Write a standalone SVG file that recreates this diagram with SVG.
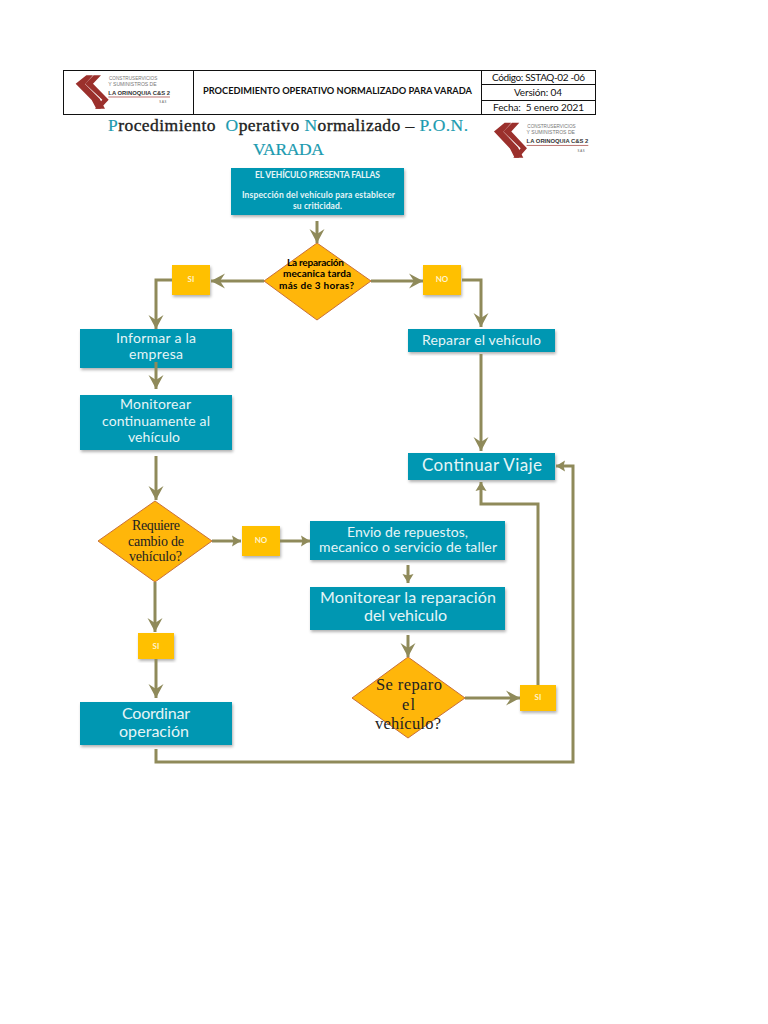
<svg xmlns="http://www.w3.org/2000/svg" width="768" height="1024" viewBox="0 0 768 1024">
<style>
.tb{fill:#0097b2;filter:url(#sh)}
.yb{fill:#ffc000;filter:url(#sh)}
.d{fill:#ffb60a;stroke:#c8703a;stroke-width:1}
.w{fill:#e6f5f7;font-family:Lato,"Liberation Sans",sans-serif}
.y{fill:#fff4cc;text-anchor:middle;font-family:Lato,"Liberation Sans",sans-serif;font-size:8px;font-weight:700}
.k{fill:#000;font-family:Lato,"Liberation Sans",sans-serif;font-size:10px;font-weight:700}
.s{fill:#222;font-family:"Liberation Serif",serif;font-size:14px}
.s2{font-size:16.5px}
.c{fill:none;stroke:#8f8a5a;stroke-width:3}
.hd{fill:#111;font-family:Lato,"Liberation Sans",sans-serif;font-size:10px}
.t{font-family:"Liberation Serif",serif;font-size:17.5px;fill:#222;stroke:#222;stroke-width:.35}
.tc{fill:#1c9bb0;stroke:#1c9bb0;stroke-width:.2}
.lg{font-family:"Liberation Sans",sans-serif;fill:#777;font-size:15px}
</style>
<defs>
<filter id="sh" x="-10%" y="-10%" width="120%" height="125%"><feDropShadow dx="1" dy="2" stdDeviation="1.5" flood-color="#000" flood-opacity=".3"/></filter>
<marker id="a" markerUnits="userSpaceOnUse" markerWidth="18" markerHeight="18" refX="15" refY="9" orient="auto"><path d="M1 1.500L15 9L1 16.500L6 9Z" fill="#8f8a5a"/></marker>
<marker id="b" markerUnits="userSpaceOnUse" markerWidth="12" markerHeight="12" refX="10" refY="6" orient="auto"><path d="M1 .5L10 6L1 11.5L2.500 6Z" fill="#8f8a5a"/></marker>
<g id="logo">
<path d="M32 47L64 22H84L60 48L104 92L120 122H94L80 96Z" fill="#9b302c"/>
<path d="M60 47L86 22H108L84 47L131 95L106 122H90L112 95Z" fill="#9b302c"/>
<text x="132" y="36" class="lg" textLength="145" lengthAdjust="spacingAndGlyphs">CONSTRUSERVICIOS</text>
<text x="130" y="55" class="lg" textLength="145" lengthAdjust="spacingAndGlyphs">Y SUMINISTROS DE</text>
<text x="130" y="80" class="lg" style="fill:#333;font-weight:700;font-size:16px" textLength="185" lengthAdjust="spacingAndGlyphs">LA ORINOQUIA C&amp;S 2</text>
<line x1="130" y1="87" x2="315" y2="87" stroke="#9b302c" stroke-width="2"/>
<text x="283" y="105" class="lg" style="font-size:11px;fill:#555" textLength="21" lengthAdjust="spacingAndGlyphs">S.A.S</text>
</g>
</defs>
<rect width="768" height="1024" fill="#fff"/>
<g id="header" fill="none" stroke="#111" stroke-width="1">
<rect x="63.500" y="70.500" width="532" height="44"/>
<path d="M193.500 70V114M481.500 70V114M482 84.500H596M482 100.500H596"/>
</g>
<g id="header-text">
<use href="#logo" transform="translate(65 68) scale(.3333)"/>
<text x="203" y="94" class="hd" style="font-weight:700;font-size:10px" textLength="269" lengthAdjust="spacingAndGlyphs">PROCEDIMIENTO OPERATIVO NORMALIZADO PARA VARADA</text>
<text x="492" y="81" class="hd" textLength="93" lengthAdjust="spacing">Código: SSTAQ-02 -06</text>
<text x="514" y="96" class="hd" textLength="48" lengthAdjust="spacing">Versión: 04</text>
<text x="493" y="111" class="hd" textLength="91" lengthAdjust="spacing" xml:space="preserve">Fecha:  5 enero 2021</text>
</g>
<g id="title">
<text x="108" y="131" class="t" textLength="360" lengthAdjust="spacing" xml:space="preserve"><tspan class="tc">P</tspan>rocedimiento  <tspan class="tc">O</tspan>perativo <tspan class="tc">N</tspan>ormalizado – <tspan class="tc">P.O.N.</tspan></text>
<text x="253" y="155" class="t tc" textLength="71" lengthAdjust="spacing">VARADA</text>
<use href="#logo" transform="translate(483.300 115) scale(.3333 .35)"/>
</g>
<g id="n1"><rect class="tb" x="231" y="168" width="173" height="47"/>
<text class="w" x="255" y="178" font-size="8.500" textLength="125" style="font-weight:700">EL VEHÍCULO PRESENTA FALLAS</text>
<text class="w" x="242" y="198" font-size="8.500" textLength="153" style="font-weight:700">Inspección del vehículo para establecer</text>
<text class="w" x="293" y="209" font-size="8.500" textLength="49" style="font-weight:700">su criticidad.</text></g>
<g id="n2"><polygon class="d" points="317,243 371,281 317,320 264,281"/>
<text class="k" x="287" y="266" textLength="57">La reparación</text><text class="k" x="283" y="277" textLength="68">mecanica tarda</text><text class="k" x="279" y="289" textLength="75">más de 3 horas?</text></g>
<g id="n3"><rect class="yb" x="172" y="265" width="38" height="30"/><text class="y" x="191" y="282">SI</text></g>
<g id="n4"><rect class="yb" x="423" y="265" width="38" height="30"/><text class="y" x="442" y="282">NO</text></g>
<g id="n5"><rect class="tb" x="80" y="329" width="152" height="39"/>
<text class="w" x="116" y="343" font-size="14" textLength="80">Informar a la</text><text class="w" x="129" y="359" font-size="14" textLength="54">empresa</text></g>
<g id="n6"><rect class="tb" x="408" y="329" width="147" height="23"/><text class="w" x="422" y="345" font-size="14" textLength="119">Reparar el vehículo</text></g>
<g id="n7"><rect class="tb" x="80" y="395" width="152" height="55"/>
<text class="w" x="120" y="409" font-size="14" textLength="71">Monitorear</text><text class="w" x="102" y="426" font-size="14" textLength="108">continuamente al</text><text class="w" x="128" y="442" font-size="14" textLength="52">vehículo</text></g>
<g id="n8"><rect class="tb" x="408" y="453" width="147" height="27"/><text class="w" x="422" y="471" font-size="17" textLength="120">Continuar Viaje</text></g>
<g id="n9"><polygon class="d" points="155,501 212,541 155,582 98,541"/>
<text class="s" x="132" y="530" textLength="48">Requiere</text><text class="s" x="128" y="546" textLength="56">cambio de</text><text class="s" x="129" y="561" textLength="53">vehículo?</text></g>
<g id="n10"><rect class="yb" x="242" y="526" width="38" height="30"/><text class="y" x="261" y="543">NO</text></g>
<g id="n11"><rect class="tb" x="310" y="521" width="195" height="39"/>
<text class="w" x="347" y="537" font-size="14" textLength="121">Envio de repuestos,</text><text class="w" x="319" y="552" font-size="14" textLength="178">mecanico o servicio de taller</text></g>
<g id="n12"><rect class="tb" x="310" y="587" width="195" height="43"/>
<text class="w" x="320" y="603" font-size="16" textLength="176">Monitorear la reparación</text><text class="w" x="364" y="621" font-size="16" textLength="83">del vehiculo</text></g>
<g id="n13"><polygon class="d" points="408,657 465,698 408,738 352,698"/>
<text class="s s2" x="376" y="690" textLength="66">Se reparo</text><text class="s s2" x="402" y="710" textLength="13">el</text><text class="s s2" x="375" y="729" textLength="66">vehículo?</text></g>
<g id="n14"><rect class="yb" x="138" y="633" width="36" height="26"/><text class="y" x="156" y="649">SI</text></g>
<g id="n15"><rect class="yb" x="520" y="685" width="36" height="26"/><text class="y" x="538" y="700">SI</text></g>
<g id="n16"><rect class="tb" x="80" y="702" width="152" height="43"/>
<text class="w" x="122" y="719" font-size="16" textLength="68">Coordinar</text><text class="w" x="119" y="737" font-size="16" textLength="70">operación</text></g>
<g id="connectors">
<path class="c" d="M317 221V243" marker-end="url(#a)"/>
<path class="c" d="M264 281H211" marker-end="url(#a)"/>
<path class="c" d="M172 280H156V329" marker-end="url(#a)"/>
<path class="c" d="M371 281H423" marker-end="url(#a)"/>
<path class="c" d="M462 280H481V327" marker-end="url(#a)"/>
<path class="c" d="M156 362V389" marker-end="url(#a)"/>
<path class="c" d="M481 354V451" marker-end="url(#a)"/>
<path class="c" d="M156 456V500" marker-end="url(#a)"/>
<path class="c" d="M212 541H241" marker-end="url(#b)"/>
<path class="c" d="M280 541H310" marker-end="url(#b)"/>
<path class="c" d="M408 565V583" marker-end="url(#b)"/>
<path class="c" d="M155 582V632" marker-end="url(#a)"/>
<path class="c" d="M156 659V698" marker-end="url(#a)"/>
<path class="c" d="M408 635V657" marker-end="url(#a)"/>
<path class="c" d="M465 698H520" marker-end="url(#a)"/>
<path class="c" d="M538 685V504H481V482" marker-end="url(#b)"/>
<path class="c" d="M156 749V762H573V466H556" marker-end="url(#b)"/>
</g>
</svg>
